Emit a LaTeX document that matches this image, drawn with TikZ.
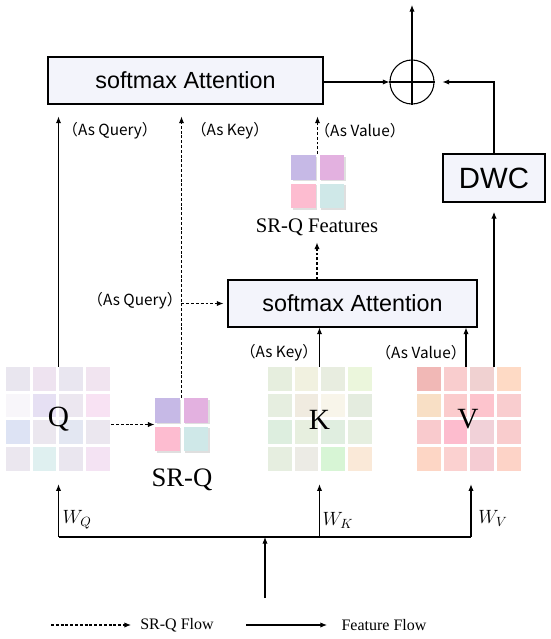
\documentclass[tikz,border=0pt]{standalone}
\usepackage{fontspec}
\setmainfont{Liberation Serif}
\setsansfont{Liberation Sans}
\newfontfamily\cjk{Noto Sans CJK SC}
\usetikzlibrary{arrows.meta,shadows,calc}
\definecolor{boxfill}{HTML}{F3F4FB}
% Q grid
\definecolor{q11}{HTML}{E9E6EF}\definecolor{q12}{HTML}{EEE3F0}\definecolor{q13}{HTML}{E9E6F0}\definecolor{q14}{HTML}{F1E4F0}
\definecolor{q21}{HTML}{F8F6FA}\definecolor{q22}{HTML}{E6E0F3}\definecolor{q23}{HTML}{ECE7F0}\definecolor{q24}{HTML}{F8E2F3}
\definecolor{q31}{HTML}{DDE3F4}\definecolor{q32}{HTML}{EBE7EF}\definecolor{q33}{HTML}{E3E7F2}\definecolor{q34}{HTML}{EBE7EF}
\definecolor{q41}{HTML}{EBE7EF}\definecolor{q42}{HTML}{DFF0F0}\definecolor{q43}{HTML}{EAE6EF}\definecolor{q44}{HTML}{F4E3F3}
% K grid
\definecolor{k11}{HTML}{E6EEDE}\definecolor{k12}{HTML}{F1F1E0}\definecolor{k13}{HTML}{E8EDE0}\definecolor{k14}{HTML}{EBF6DC}
\definecolor{k21}{HTML}{E6EEE0}\definecolor{k22}{HTML}{F0EBE0}\definecolor{k23}{HTML}{F8F5EA}\definecolor{k24}{HTML}{E4ECDF}
\definecolor{k31}{HTML}{DDEEDF}\definecolor{k32}{HTML}{E7EFDF}\definecolor{k33}{HTML}{E0EEE0}\definecolor{k34}{HTML}{E6EFE0}
\definecolor{k41}{HTML}{E6EEE0}\definecolor{k42}{HTML}{ECEBE5}\definecolor{k43}{HTML}{D7F5D5}\definecolor{k44}{HTML}{FAE9D8}
% V grid
\definecolor{v11}{HTML}{F1B8B6}\definecolor{v12}{HTML}{F9CDCE}\definecolor{v13}{HTML}{F0D1D1}\definecolor{v14}{HTML}{FEDAC5}
\definecolor{v21}{HTML}{F8DFC5}\definecolor{v22}{HTML}{FBCCCD}\definecolor{v23}{HTML}{FDC4CD}\definecolor{v24}{HTML}{F9CDCF}
\definecolor{v31}{HTML}{F9CACD}\definecolor{v32}{HTML}{FDBCCE}\definecolor{v33}{HTML}{F1D1D8}\definecolor{v34}{HTML}{F9CCCD}
\definecolor{v41}{HTML}{FDD6C5}\definecolor{v42}{HTML}{FBD1D0}\definecolor{v43}{HTML}{F5CCD3}\definecolor{v44}{HTML}{FDD3C7}
% SR-Q squares
\definecolor{s1}{HTML}{C6B9E6}\definecolor{s2}{HTML}{E3B1E0}\definecolor{s3}{HTML}{FDBCD0}\definecolor{s4}{HTML}{CFE8E8}
\newcommand\mygrid[3]{%
  \foreach \r in {1,...,4}{\foreach \c in {1,...,4}{%
    \fill[#3\r\c] ({#1+(\c-1)*26.7},{#2+(\r-1)*26.7}) rectangle ++(23.5,23.5);}}}
\newcommand\myfour[2]{%
  \fill[s1,drop shadow={shadow xshift=1.2pt,shadow yshift=-1.2pt,opacity=0.25}] (#1,#2) rectangle ++(24.5,24.5);
  \fill[s2,drop shadow={shadow xshift=1.2pt,shadow yshift=-1.2pt,opacity=0.25}] ({#1+28.5},#2) rectangle ++(24.5,24.5);
  \fill[s3,drop shadow={shadow xshift=1.2pt,shadow yshift=-1.2pt,opacity=0.25}] (#1,{#2+28.5}) rectangle ++(24.5,24.5);
  \fill[s4,drop shadow={shadow xshift=1.2pt,shadow yshift=-1.2pt,opacity=0.25}] ({#1+28.5},{#2+28.5}) rectangle ++(24.5,24.5);}
\begin{document}
\begin{tikzpicture}[x=0.75pt,y=-0.75pt,
  ln/.style={line width=0.8pt},
  arr/.style={ln,-{Latex[length=5pt,width=4pt]}},
  darr/.style={arr,dash pattern=on 2.2pt off 1.4pt},
  abox/.style={draw,line width=0.8pt,fill=boxfill,inner sep=0,font=\sffamily\fontsize{17.5}{20}\selectfont},
  lbl/.style={font=\cjk\fontsize{11.5}{13}\selectfont,inner sep=0},
  gridn/.style={minimum width=78.75pt,minimum height=78.75pt,inner sep=0,font=\fontsize{22}{24}\selectfont},
  icon/.style={minimum width=40pt,minimum height=40pt,inner sep=0},
  wl/.style={inner sep=0,font=\fontsize{14}{16}\selectfont},
  leg/.style={inner sep=0,font=\fontsize{12}{14}\selectfont}]
\useasboundingbox (0,0) rectangle (550,639);
% grids
\mygrid{6}{367}{q}
\mygrid{268}{367}{k}
\mygrid{417}{367}{v}
\node[gridn] (q) at (58.5,419.5) {Q};
\node[gridn] (k) at (319.5,419.5) {K};
\node[gridn] (v) at (468,419.5) {V};
% SR-Q icons
\myfour{155}{398}
\node[icon] (srq) at (181.5,424.5) {};
\node[inner sep=0,font=\fontsize{20}{22}\selectfont] (srqt) at (182,480) {SR-Q};
\myfour{291}{155}
\node[icon] (srqf) at (317.5,181) {};
\node[inner sep=0,font=\fontsize{15.5}{17}\selectfont] (srqft) at (317,227) {SR-Q Features};
% boxes
\node[abox,minimum width=206.25pt,minimum height=35.25pt] (att1) at (185.5,80.5) {softmax Attention};
\node[abox,minimum width=186.75pt,minimum height=35.25pt] (att2) at (352.5,303.5) {softmax Attention};
\node[abox,minimum width=76.5pt,minimum height=36pt,font=\sffamily\fontsize{22}{24}\selectfont] (dwc) at (494,178) {DWC};
\node[draw,circle,ln,minimum size=33pt,inner sep=0] (plus) at (412,82) {};
\draw[ln] (plus.north) -- (plus.south) (plus.west) -- (plus.east);
\coordinate (out) at (412,5);
% labels
\node[lbl] (l1) at (110,131) {（As Query）};
\node[lbl] (l2) at (230,131) {（As Key）};
\node[lbl] (l3) at (360,131) {（As Value）};
\node[lbl] (l4) at (135,301) {（As Query）};
\node[lbl] (l5) at (279,353) {（As Key）};
\node[lbl] (l6) at (421,353) {（As Value）};
% top connectors
\draw[arr] (att1.east |- plus.west) -- (plus.west);
\draw[arr] (plus.north) -- (out);
\draw[arr,shorten >=6pt] (dwc.north) |- (plus.east);
\draw[arr,shorten >=9pt] (q.north) -- (q.north |- att1.south);
\draw[darr,shorten >=9pt] (srq.north) -- (srq.north |- att1.south);
\draw[darr,shorten >=9pt] (srqf.north) -- (srqf.north |- att1.south);
% middle connectors
\draw[darr] (q.east |- srq.west) -- (srq.west);
\draw[darr,shorten >=3pt] (srq.north |- att2.west) -- (att2.west);
\draw[darr,shorten >=5pt] (att2.north -| srqft.south) -- (srqft.south);
\draw[arr] (k.north) -- (k.north |- att2.south);
\coordinate (va) at ($(v.north)+(-2,0)$);
\draw[arr] (va) -- (va |- att2.south);
\draw[arr,shorten >=7pt] (v.north -| dwc.south) -- (dwc.south);
% bottom
\coordinate (bq) at (58.5,537);
\coordinate (bk) at (319.5,537);
\coordinate (bv) at (471,537);
\coordinate (in) at (265,598);
\draw[ln] (bq) -- (bv);
\draw[arr,shorten >=9pt] (bq) -- (bq |- q.south);
\draw[arr,shorten >=9pt] (bk) -- (bk |- k.south);
\draw[arr,shorten >=9pt] (bv) -- (bv |- v.south);
\draw[arr] (in) -- (in |- bq);
\node[wl] (wq) at (77,520) {$W_Q$};
\node[wl] (wk) at (338,520) {$W_K$};
\node[wl] (wv) at (493,518) {$W_V$};
% legend
\coordinate (ld1) at (51,625);
\coordinate (ld2) at (131,625);
\coordinate (ls1) at (246,625);
\coordinate (ls2) at (327,625);
\node[leg] (lt1) at (177,625) {SR-Q Flow};
\node[leg] (lt2) at (384,625) {Feature Flow};
\draw[darr] (ld1) -- (ld2);
\draw[arr] (ls1) -- (ls2);
\end{tikzpicture}
\end{document}
